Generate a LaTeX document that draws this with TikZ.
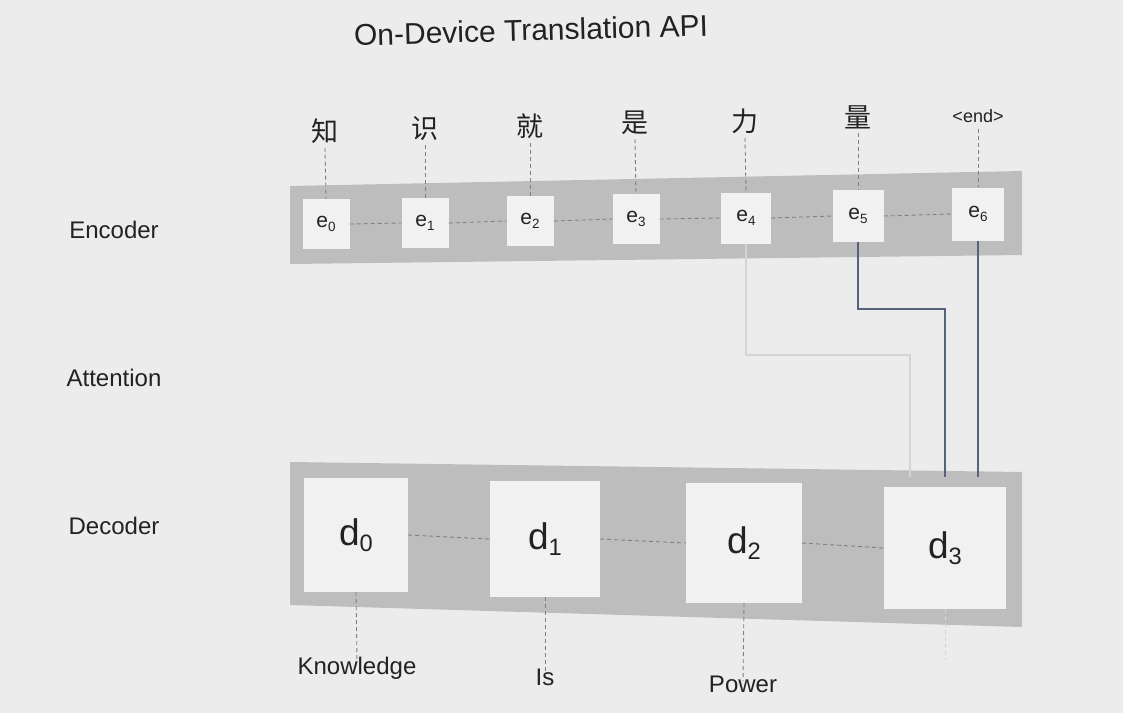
\documentclass[tikz,border=0pt]{standalone}
\usepackage{fontspec}
\setmainfont{Liberation Sans}
\newfontfamily\cjk{Noto Sans CJK SC}
\definecolor{bgc}{HTML}{ECECEC}
\definecolor{bandc}{HTML}{BDBDBD}
\definecolor{boxc}{HTML}{F1F1F1}
\definecolor{txt}{HTML}{222222}
\definecolor{dashc}{HTML}{7C808A}
\definecolor{attc}{HTML}{56627E}
\definecolor{attl}{HTML}{D4D4D4}
\newcommand{\sbs}[1]{\raisebox{-0.3ex}{\scalebox{0.64}{#1}}}
\begin{document}
\begin{tikzpicture}[x=1pt,y=-1pt,
  every node/.style={text=txt},
  ebox/.style={fill=boxc, minimum width=47pt, minimum height=50pt, inner sep=0pt, font=\fontsize{21}{21}\selectfont},
  dbox/.style={fill=boxc, inner sep=0pt, font=\fontsize{37}{37}\selectfont},
  zh/.style={font=\cjk\fontsize{27}{27}\selectfont, inner sep=4pt},
  lab/.style={font=\fontsize{24}{24}\selectfont, inner sep=2pt},
  dsh/.style={draw=dashc, line width=0.9pt, dash pattern=on 4pt off 3pt},
  attline/.style={draw=attc, line width=1.1pt},
  attlight/.style={draw=attl, line width=1.1pt}]
\fill[bgc] (0,0) rectangle (1123,713);
\useasboundingbox (0,0) rectangle (1123,713);
% title
\node[font=\fontsize{30}{30}\selectfont, rotate=1.6] (title) at (531,30) {On-Device Translation API};
% left labels
\node[lab] (lenc) at (114,230) {Encoder};
\node[lab] (latt) at (114,378) {Attention};
\node[lab] (ldec) at (114,526) {Decoder};
% bands
\fill[bandc] (290,186) -- (1022,171) -- (1022,255) -- (290,264) -- cycle;
\fill[bandc] (290,462) -- (1022,472) -- (1022,627) -- (290,605) -- cycle;
% encoder boxes
\node[ebox] (e0) at (326,224) {e\sbs{0}};
\node[ebox] (e1) at (425,223) {e\sbs{1}};
\node[ebox] (e2) at (530,221) {e\sbs{2}};
\node[ebox] (e3) at (636,219) {e\sbs{3}};
\node[ebox, minimum width=50pt, minimum height=51pt] (e4) at (746,218) {e\sbs{4}};
\node[ebox, minimum width=51pt, minimum height=52pt] (e5) at (858,216) {e\sbs{5}};
\node[ebox, minimum width=52pt, minimum height=53pt] (e6) at (978,214) {e\sbs{6}};
% source tokens
\node[zh] (c0) at (325,131) {知};
\node[zh] (c1) at (425,129) {识};
\node[zh] (c2) at (530,126) {就};
\node[zh] (c3) at (635,123) {是};
\node[zh] (c4) at (745,121) {力};
\node[zh] (c5) at (858,117) {量};
\node[font=\fontsize{18}{18}\selectfont, inner sep=6pt] (c6) at (978,116) {<end>};
\foreach \i in {0,...,6} {\draw[dsh] (c\i.south) -- (e\i.north);}
\foreach \i/\j in {0/1,1/2,2/3,3/4,4/5,5/6} {\draw[dsh] (e\i.east) -- (e\j.west);}
% decoder boxes
\node[dbox, minimum width=104pt, minimum height=114pt] (d0) at (356,535) {d\sbs{0}};
\node[dbox, minimum width=110pt, minimum height=116pt] (d1) at (545,539) {d\sbs{1}};
\node[dbox, minimum width=116pt, minimum height=120pt] (d2) at (744,543) {d\sbs{2}};
\node[dbox, minimum width=122pt, minimum height=122pt] (d3) at (945,548) {d\sbs{3}};
\foreach \i/\j in {0/1,1/2,2/3} {\draw[dsh] (d\i.east) -- (d\j.west);}
% target tokens
\node[lab] (t0) at (357,668) {Knowledge};
\node[lab] (t1) at (545,677) {Is};
\node[lab] (t2) at (743,684) {Power};
\coordinate (t3) at (945,660);
\draw[dsh] (d0.south) -- ([yshift=-8pt]t0.north);
\draw[dsh] (d1.south) -- ([yshift=-8pt]t1.north);
\draw[dsh] (d2.south) -- ([yshift=-8pt]t2.north);
\draw[dsh, draw=attl] (d3.south) -- (t3);
% attention
\coordinate (a4) at (746,355);
\coordinate (a5) at (858,309);
\draw[attlight] (e4.south) -- (a4) -| ([xshift=-35pt,yshift=10pt]d3.north);
\draw[attline] (e5.south) -- (a5) -| ([yshift=10pt]d3.north);
\draw[attline] (e6.south) -- ([yshift=10pt]e6.south |- d3.north);
\end{tikzpicture}
\end{document}
